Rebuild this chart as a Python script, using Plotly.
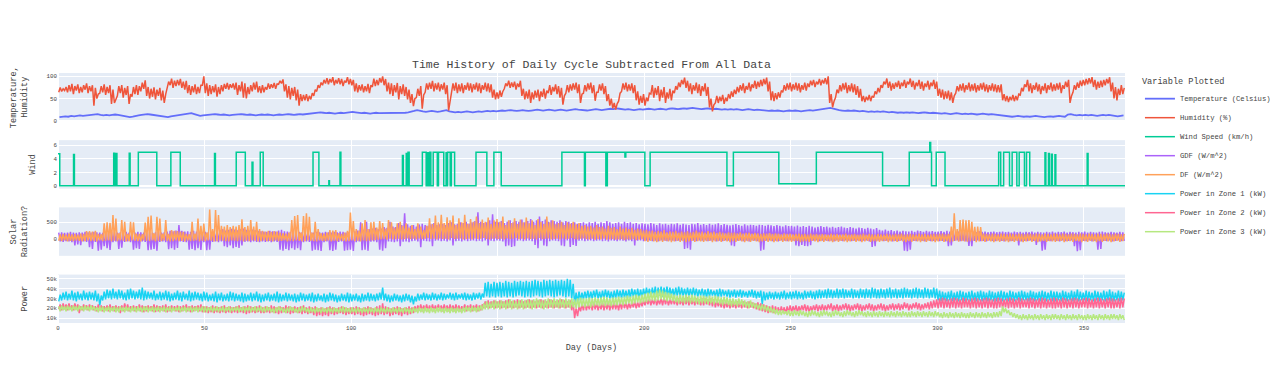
import plotly.graph_objects as go
from plotly.subplots import make_subplots

FONT = "Courier New, Liberation Mono, monospace"

days = list(range(364))

temperature = [
    8, 9, 10, 9, 11, 10, 11, 12, 11, 12,
    12, 13, 14, 15, 13, 12, 13, 12, 13, 14,
    13, 12, 11, 10, 8, 9, 11, 12, 13, 14,
    15, 14, 13, 12, 11, 10, 9, 8, 10, 11,
    12, 13, 14, 15, 16, 17, 15, 13, 11, 12,
    13, 14, 14, 15, 14, 13, 14, 13, 12, 13,
    14, 15, 15, 14, 13, 14, 13, 12, 13, 14,
    13, 14, 13, 12, 13, 14, 13, 14, 15, 14,
    13, 14, 15, 14, 15, 16, 17, 18, 19, 19,
    18, 17, 18, 17, 16, 17, 18, 17, 18, 19,
    20, 19, 18, 17, 18, 17, 16, 17, 18, 17,
    17, 18, 17, 18, 17, 18, 17, 17, 18, 19,
    20, 22, 24, 22, 21, 20, 21, 22, 21, 20,
    21, 22, 24, 21, 20, 19, 20, 19, 20, 21,
    20, 19, 20, 21, 20, 21, 22, 21, 22, 21,
    22, 23, 22, 23, 24, 23, 22, 23, 24, 23,
    22, 23, 24, 25, 24, 23, 24, 25, 24, 23,
    24, 25, 24, 23, 24, 25, 26, 25, 24, 23,
    23, 24, 25, 26, 25, 24, 25, 26, 27, 26,
    28, 27, 26, 25, 26, 25, 24, 25, 26, 25,
    26, 27, 26, 25, 26, 27, 26, 25, 27, 28,
    27, 26, 27, 28, 27, 28, 29, 28, 27, 26,
    27, 28, 27, 26, 27, 26, 25, 26, 25, 26,
    25, 26, 25, 24, 25, 26, 25, 24, 25, 24,
    24, 23, 22, 23, 22, 23, 22, 21, 22, 23,
    22, 23, 22, 21, 22, 23, 24, 23, 24, 25,
    25, 26, 28, 29, 27, 25, 24, 23, 22, 23,
    22, 23, 22, 21, 22, 21, 20, 21, 20, 21,
    20, 21, 20, 19, 20, 19, 18, 19, 18, 19,
    18, 19, 18, 17, 18, 19, 18, 17, 18, 17,
    17, 16, 17, 16, 15, 16, 17, 16, 15, 16,
    15, 16, 15, 14, 15, 16, 15, 14, 15, 14,
    14, 13, 12, 11, 10, 9, 10, 11, 10, 9,
    10, 9, 10, 11, 10, 9, 8, 9, 10, 9,
    10, 11, 10, 9, 14, 15, 13, 12, 13, 12,
    13, 12, 13, 12, 11, 12, 13, 12, 13, 12,
    11, 10, 11, 12,
]

humidity_hi = [
    75, 72, 76, 80, 83, 78, 82, 76, 80, 84,
    78, 80, 74, 60, 78, 82, 76, 80, 70, 50,
    78, 80, 74, 78, 60, 76, 80, 78, 86, 91,
    76, 72, 75, 70, 74, 68, 60, 88, 95, 90,
    92, 94, 88, 90, 80, 78, 82, 76, 80, 100,
    84, 80, 78, 82, 76, 80, 83, 85, 82, 84,
    86, 80, 88, 84, 76, 80, 86, 88, 78, 80,
    76, 84, 82, 85, 83, 90, 93, 82, 78, 74,
    76, 70, 60, 58, 60, 56, 62, 70, 80, 86,
    92, 96, 94, 98, 92, 96, 94, 90, 98, 94,
    92, 84, 80, 82, 78, 83, 80, 95, 92, 96,
    100, 94, 86, 84, 80, 85, 78, 82, 76, 70,
    60, 50, 72, 78, 58, 84, 86, 90, 84, 86,
    82, 86, 80, 50, 84, 86, 82, 84, 80, 86,
    84, 82, 86, 84, 80, 86, 84, 82, 70, 64,
    68, 66, 84, 90, 86, 88, 84, 90, 72, 66,
    70, 64, 68, 70, 66, 72, 68, 80, 76, 82,
    78, 74, 56, 80, 82, 84, 86, 82, 60, 80,
    84, 86, 80, 64, 82, 84, 78, 60, 50, 40,
    38, 62, 84, 86, 82, 84, 80, 66, 56, 60,
    52, 62, 80, 74, 78, 70, 76, 64, 72, 68,
    78, 86, 92, 97, 90, 84, 80, 86, 82, 78,
    84, 76, 50, 36, 56, 54, 58, 52, 60, 66,
    70, 76, 80, 84, 78, 86, 82, 90, 88, 92,
    94, 97, 88, 66, 62, 64, 68, 80, 84, 86,
    82, 86, 84, 80, 86, 84, 90, 92, 88, 94,
    92, 96, 100, 60, 44, 70, 80, 84, 86, 80,
    84, 82, 78, 72, 56, 54, 58, 56, 66, 74,
    80, 88, 95, 88, 84, 86, 90, 86, 92, 88,
    95, 90, 86, 92, 88, 84, 90, 86, 92, 88,
    72, 70, 66, 68, 64, 56, 78, 82, 84, 80,
    86, 82, 84, 80, 84, 86, 82, 80, 84, 82,
    80, 82, 60, 56, 54, 58, 56, 60, 74, 82,
    92, 84, 80, 86, 82, 78, 84, 80, 86, 82,
    84, 86, 80, 88, 92, 56, 80, 86, 90, 92,
    94, 96, 98, 92, 88, 90, 92, 94, 98, 86,
    76, 72, 80, 74,
]

humidity_lo = [
    64, 66, 68, 64, 66, 60, 68, 62, 64, 70,
    62, 66, 34, 50, 62, 64, 58, 62, 38, 40,
    56, 62, 52, 58, 38, 54, 60, 58, 66, 72,
    56, 50, 54, 48, 56, 46, 40, 72, 80, 74,
    78, 80, 74, 70, 62, 58, 64, 60, 62, 80,
    62, 56, 60, 64, 54, 60, 66, 72, 70, 74,
    70, 58, 66, 52, 50, 60, 66, 70, 64, 62,
    64, 70, 72, 74, 72, 82, 84, 66, 52, 48,
    56, 46, 34, 44, 46, 44, 48, 56, 66, 74,
    80, 84, 82, 86, 80, 84, 82, 78, 86, 82,
    80, 66, 64, 68, 64, 66, 62, 76, 78, 80,
    86, 80, 66, 60, 56, 64, 48, 60, 56, 48,
    40, 33, 52, 56, 27, 64, 70, 72, 66, 70,
    66, 70, 60, 23, 64, 68, 62, 66, 62, 70,
    68, 64, 70, 66, 62, 70, 66, 64, 52, 48,
    50, 54, 72, 78, 74, 76, 70, 76, 56, 48,
    50, 40, 48, 52, 44, 54, 50, 62, 58, 66,
    60, 52, 36, 62, 64, 68, 70, 62, 40, 62,
    66, 70, 62, 45, 64, 68, 60, 44, 34, 28,
    25, 44, 66, 70, 66, 68, 62, 46, 36, 40,
    34, 44, 60, 52, 58, 44, 52, 40, 50, 46,
    62, 70, 76, 82, 74, 66, 60, 68, 62, 56,
    66, 56, 30, 21, 40, 40, 44, 38, 44, 50,
    54, 60, 64, 68, 62, 70, 66, 74, 72, 76,
    78, 82, 66, 46, 44, 48, 52, 64, 68, 70,
    66, 70, 68, 64, 70, 68, 76, 80, 76, 82,
    80, 84, 82, 40, 30, 52, 62, 66, 70, 62,
    66, 64, 58, 52, 44, 42, 46, 44, 52, 60,
    64, 74, 82, 74, 68, 72, 76, 72, 78, 74,
    82, 76, 70, 78, 72, 68, 76, 70, 78, 72,
    56, 52, 48, 50, 46, 40, 62, 66, 68, 64,
    70, 66, 68, 64, 68, 70, 66, 64, 68, 66,
    64, 64, 46, 44, 42, 46, 44, 46, 58, 66,
    76, 66, 62, 70, 66, 60, 68, 62, 70, 66,
    68, 70, 62, 72, 76, 40, 64, 70, 74, 78,
    80, 82, 84, 76, 70, 74, 76, 80, 84, 66,
    50, 46, 58, 60,
]

wind_days = [
    0, 0.6, 5.3, 5.6, 19.0, 19.3, 19.8, 20.1, 24.3, 24.6,
    27.4, 33.7, 38.5, 41.7, 53.4, 53.7, 60.8, 63.9, 66.2, 66.5,
    69.0, 70.0, 87.0, 89.0, 92.4, 92.6, 96.2, 96.5, 117.5, 117.8,
    118.8, 119.1, 119.4, 119.8, 124.3, 125.6, 126.0, 126.3, 126.8, 127.2,
    128.0, 129.4, 129.8, 131.6, 132.4, 132.7, 132.9, 133.8, 134.2, 135.3,
    142.6, 146.3, 148.7, 151.2, 171.9, 179.6, 179.9, 186.9, 187.4, 193.4,
    193.7, 200.2, 202.0, 228.2, 230.4, 245.9, 258.7, 281.3, 290.4, 297.4,
    297.7, 298.0, 299.6, 302.6, 320.9, 321.6, 322.6, 324.6, 325.5, 327.1,
    327.9, 329.7, 330.4, 331.5, 336.7, 337.0, 337.9, 338.2, 338.9, 339.2,
    340.1, 340.4, 351.1, 351.4, 364,
]
wind_levels = [
    4.75, 0.08, 4.65, 0.08, 4.85, 0.08, 4.8, 0.08, 4.85, 0.08,
    5.0, 0.08, 5.0, 0.08, 4.8, 0.08, 5.0, 0.08, 3.5, 0.08,
    5.0, 0.08, 5.0, 0.08, 0.8, 0.08, 5.0, 0.08, 4.5, 0.08,
    4.8, 0.08, 5.0, 0.08, 5.0, 0.08, 4.9, 0.08, 5.0, 0.08,
    5.0, 0.08, 5.0, 0.08, 4.9, 0.08, 5.0, 0.08, 5.0, 0.08,
    5.0, 0.08, 5.0, 0.08, 5.0, 0.08, 5.0, 0.08, 5.0, 4.3,
    5.0, 0.08, 5.0, 0.08, 5.0, 0.35, 5.0, 0.08, 5.0, 6.4,
    5.0, 0.08, 5.0, 0.08, 5.0, 0.08, 5.0, 0.08, 5.0, 0.08,
    5.0, 0.08, 5.0, 0.08, 4.9, 0.08, 4.8, 0.08, 4.7, 0.08,
    4.6, 0.08, 4.8, 0.08, 0.08,
]

gdf_hi = [
    200, 210, 190, 200, 220, 200, 190, 210, 200, 220,
    210, 200, 220, 210, 200, 190, 210, 200, 220, 210,
    200, 210, 190, 220, 200, 210, 200, 220, 210, 200,
    210, 200, 190, 210, 220, 200, 210, 230, 250, 240,
    260, 420, 250, 230, 240, 220, 250, 230, 210, 200,
    220, 210, 200, 230, 250, 270, 300, 260, 280, 310,
    290, 270, 300, 320, 280, 260, 290, 270, 250, 240,
    230, 220, 250, 240, 230, 260, 280, 240, 230, 220,
    250, 240, 220, 210, 230, 220, 210, 200, 220, 210,
    200, 220, 210, 200, 220, 210, 230, 220, 200, 210,
    220, 240, 260, 500, 280, 520, 300, 320, 340, 300,
    320, 360, 340, 520, 380, 360, 480, 420, 770, 440,
    400, 420, 380, 440, 460, 420, 400, 440, 480, 420,
    440, 460, 420, 480, 500, 440, 460, 500, 480, 520,
    460, 500, 540, 800, 520, 480, 500, 560, 740, 520,
    500, 540, 480, 520, 560, 500, 540, 520, 580, 500,
    540, 600, 520, 560, 670, 540, 580, 520, 560, 540,
    520, 560, 500, 540, 520, 480, 500, 460, 480, 500,
    460, 500, 480, 520, 460, 500, 480, 540, 500, 460,
    480, 500, 460, 520, 480, 500, 460, 480, 440, 470,
    460, 440, 480, 460, 420, 470, 440, 460, 430, 460,
    440, 470, 430, 460, 440, 420, 460, 440, 480, 430,
    450, 420, 460, 430, 440, 470, 420, 450, 430, 410,
    430, 450, 420, 400, 440, 410, 430, 420, 400, 430,
    420, 400, 430, 410, 390, 420, 400, 380, 410, 390,
    400, 380, 410, 370, 390, 360, 400, 380, 350, 370,
    390, 360, 380, 350, 370, 340, 360, 380, 350, 330,
    360, 340, 320, 350, 330, 310, 340, 320, 300, 330,
    280, 260, 290, 250, 270, 240, 260, 230, 250, 240,
    230, 250, 220, 260, 240, 220, 250, 230, 240, 220,
    230, 240, 220, 250, 230, 240, 220, 230, 250, 220,
    240, 220, 230, 210, 240, 220, 230, 210, 220, 230,
    210, 220, 230, 210, 220, 200, 230, 210, 220, 200,
    220, 210, 230, 200, 220, 210, 200, 220, 210, 230,
    200, 220, 210, 230, 200, 220, 210, 200, 220, 210,
    230, 200, 220, 210, 200, 220, 230, 210, 200, 220,
    210, 200, 220, 210,
]

gdf_lo = [
    -60, -70, -50, -60, -80, -180, -150, -170, -60, -70,
    -230, -280, -70, -330, -300, -200, -260, -310, -80, -60,
    -280, -240, -70, -60, -80, -300, -260, -280, -60, -70,
    -320, -300, -280, -330, -70, -60, -80, -290, -260, -300,
    -250, -60, -70, -80, -300, -280, -320, -260, -310, -80,
    -320, -300, -70, -60, -80, -60, -200, -230, -180, -260,
    -220, -250, -180, -70, -60, -80, -60, -70, -80, -60,
    -70, -60, -80, -60, -70, -300, -330, -280, -320, -260,
    -300, -260, -320, -80, -60, -70, -330, -300, -320, -340,
    -80, -60, -320, -340, -300, -70, -60, -330, -320, -300,
    -340, -80, -60, -320, -300, -330, -70, -60, -80, -300,
    -330, -260, -60, -70, -80, -60, -200, -70, -60, -80,
    -50, -40, -60, -230, -40, -50, -60, -200, -40, -30,
    -50, -40, -60, -30, -180, -50, -40, -60, -30, -50,
    -40, -30, -50, -40, -60, -30, -180, -40, -50, -30,
    -40, -60, -200, -180, -220, -200, -40, -30, -50, -40,
    -30, -50, -160, -260, -40, -180, -200, -50, -30, -40,
    -50, -180, -200, -30, -220, -160, -190, -40, -30, -50,
    -40, -30, -50, -40, -30, -50, -40, -60, -30, -40,
    -50, -30, -40, -60, -30, -50, -180, -40, -30, -50,
    -40, -30, -50, -40, -60, -30, -40, -50, -30, -40,
    -50, -40, -30, -280, -260, -300, -40, -50, -30, -40,
    -30, -50, -40, -30, -60, -40, -50, -30, -40, -180,
    -200, -40, -30, -50, -40, -60, -30, -40, -50, -330,
    -300, -40, -30, -50, -40, -60, -30, -40, -50, -30,
    -40, -180, -200, -160, -190, -200, -170, -40, -30, -50,
    -40, -30, -50, -40, -60, -30, -40, -50, -30, -40,
    -50, -40, -30, -50, -40, -30, -60, -220, -200, -40,
    -30, -50, -40, -30, -60, -40, -50, -30, -330, -350,
    -300, -40, -50, -30, -40, -60, -30, -50, -40, -30,
    -50, -40, -60, -200, -180, -40, -30, -50, -40, -60,
    -190, -200, -40, -30, -50, -40, -60, -30, -40, -50,
    -30, -40, -60, -30, -50, -40, -30, -180, -60, -40,
    -50, -30, -40, -160, -60, -330, -300, -40, -50, -30,
    -40, -60, -30, -50, -40, -30, -200, -350, -320, -40,
    -50, -30, -60, -40, -300, -280, -40, -50, -30, -60,
    -40, -30, -50, -40,
]

df_hi = [
    150, 160, 140, 170, 150, 160, 140, 170, 160, 240,
    240, 230, 250, 160, 150, 470, 500, 490, 714, 616,
    180, 567, 520, 160, 517, 500, 170, 160, 150, 497,
    665, 700, 180, 665, 616, 170, 567, 160, 270, 250,
    240, 230, 220, 160, 150, 517, 170, 616, 400, 468,
    200, 880, 300, 860, 714, 400, 380, 420, 360, 400,
    380, 420, 590, 360, 400, 570, 380, 517, 300, 250,
    230, 250, 220, 240, 230, 200, 180, 170, 200, 567,
    685, 714, 200, 685, 770, 665, 200, 517, 300, 180,
    170, 200, 270, 260, 270, 180, 160, 200, 250, 790,
    540, 300, 260, 470, 567, 300, 500, 520, 350, 540,
    480, 320, 567, 500, 350, 470, 520, 400, 470, 350,
    420, 300, 470, 380, 270, 400, 620, 450, 700, 500,
    720, 480, 650, 560, 700, 420, 620, 500, 720, 460,
    600, 520, 670, 480, 580, 520, 640, 450, 560, 600,
    520, 670, 420, 560, 480, 620, 450, 580, 500, 640,
    470, 560, 420, 600, 520, 450, 670, 500, 560, 440,
    480, 520, 420, 500, 460, 520, 440, 480, 400, 420,
    380, 400, 350, 420, 360, 380, 320, 400, 340, 360,
    300, 380, 320, 350, 300, 340, 280, 320, 300, 260,
    280, 240, 260, 220, 250, 230, 270, 210, 240, 220,
    250, 200, 230, 210, 240, 200, 220, 260, 210, 230,
    200, 240, 210, 230, 190, 220, 200, 180, 210, 190,
    200, 180, 210, 170, 190, 200, 170, 190, 180, 160,
    180, 170, 190, 160, 180, 170, 150, 180, 160, 170,
    150, 160, 170, 150, 160, 140, 170, 150, 160, 140,
    160, 150, 140, 170, 150, 160, 140, 150, 170, 140,
    150, 160, 140, 150, 170, 140, 160, 150, 140, 160,
    150, 140, 160, 150, 140, 160, 150, 170, 140, 150,
    160, 150, 140, 170, 150, 160, 140, 150, 160, 150,
    160, 170, 150, 160, 380, 770, 300, 570, 580, 560,
    570, 520, 370, 380, 360, 170, 160, 150, 170, 160,
    150, 170, 160, 150, 170, 160, 150, 170, 160, 150,
    170, 160, 150, 170, 160, 150, 170, 160, 150, 170,
    160, 150, 170, 160, 150, 170, 160, 150, 170, 160,
    150, 170, 160, 150, 170, 160, 150, 170, 160, 150,
    170, 160, 150, 160,
]

df_lo = [
    -40, -50, -30, -60, -40, -50, -30, -40, -60, -50,
    -30, -50, -40, -60, -30, -50, -40, -30, -60, -40,
    -50, -30, -40, -60, -50, -30, -40, -50, -60, -30,
    -40, -50, -30, -60, -40, -50, -30, -40, -60, -50,
    -30, -50, -40, -60, -30, -50, -40, -30, -60, -40,
    -50, -30, -40, -60, -50, -30, -40, -50, -60, -30,
    -40, -50, -30, -60, -40, -50, -30, -40, -60, -50,
    -30, -50, -40, -60, -30, -50, -40, -30, -60, -40,
    -50, -30, -40, -60, -50, -30, -40, -50, -60, -30,
    -40, -50, -30, -60, -40, -50, -30, -40, -60, -50,
    -30, -50, -40, -60, -30, -50, -40, -30, -20, -10,
    0, 10, -10, 20, 0, 10, 20, 0, 10, 30,
    10, 20, 0, 30, 10, 20, 40, 10, 20, 0,
    30, 10, 20, 0, 40, 10, 20, 30, 0, 10,
    20, 0, 30, 10, 20, 40, 10, 0, 20, 30,
    10, 20, 0, 30, 10, 20, 40, 10, 20, 0,
    30, 10, 20, 0, 40, 10, 20, 30, 0, 10,
    20, 0, 30, 10, 20, 40, 10, 0, 20, 30,
    10, 0, 20, -10, 10, 0, 20, -10, 0, 10,
    -10, 0, 10, -20, 0, -10, 10, -20, -10, 0,
    -50, -70, -40, -60, -80, -50, -70, -40, -60, -80,
    -60, -40, -70, -50, -80, -60, -40, -70, -50, -60,
    -70, -50, -40, -80, -60, -50, -70, -40, -60, -80,
    -50, -70, -40, -60, -80, -50, -70, -40, -60, -80,
    -60, -40, -70, -50, -80, -60, -40, -70, -50, -60,
    -70, -50, -40, -80, -60, -50, -70, -40, -60, -80,
    -50, -70, -40, -60, -80, -50, -70, -40, -60, -80,
    -60, -40, -70, -50, -80, -60, -40, -70, -50, -60,
    -70, -50, -40, -80, -60, -50, -70, -40, -60, -80,
    -50, -70, -40, -60, -80, -50, -70, -40, -60, -80,
    -60, -40, -70, -50, -80, -60, -40, -70, -50, -60,
    -70, -50, -40, -80, -60, -50, -70, -40, -60, -80,
    -50, -70, -40, -60, -80, -50, -70, -40, -60, -80,
    -60, -40, -70, -50, -80, -60, -40, -70, -50, -60,
    -70, -50, -40, -80, -60, -50, -70, -40, -60, -80,
    -50, -70, -40, -60, -80, -50, -70, -40, -60, -80,
    -60, -40, -70, -50,
]

# Power, in thousands of kW
zone1_hi = [
    34, 36, 37, 35, 38, 36, 37, 35, 38, 36,
    37, 36, 38, 35, 33, 37, 39, 38, 40, 37,
    39, 38, 36, 39, 40, 38, 37, 39, 41, 38,
    37, 36, 38, 35, 37, 36, 38, 37, 35, 36,
    38, 36, 37, 35, 38, 36, 37, 36, 35, 37,
    36, 34, 35, 37, 35, 36, 34, 35, 37, 36,
    35, 34, 36, 35, 34, 36, 35, 37, 35, 34,
    35, 36, 34, 35, 37, 35, 34, 36, 35, 34,
    35, 34, 36, 35, 34, 35, 36, 34, 35, 33,
    35, 34, 36, 35, 34, 33, 35, 34, 36, 35,
    34, 35, 33, 35, 34, 36, 35, 34, 35, 36,
    41, 35, 34, 33, 35, 34, 33, 34, 35, 34,
    33, 32, 35, 34, 36, 35, 34, 36, 35, 34,
    36, 35, 34, 36, 35, 36, 34, 35, 36, 35,
    34, 36, 35, 36, 35, 46, 47, 45, 47, 46,
    47, 46, 48, 47, 46, 48, 47, 48, 47, 48,
    47, 48, 49, 48, 47, 49, 48, 49, 48, 49,
    48, 49, 48, 50, 49, 45, 36, 37, 36, 37,
    38, 37, 38, 39, 37, 38, 39, 38, 37, 38,
    39, 38, 39, 38, 39, 40, 39, 40, 39, 40,
    41, 40, 41, 42, 41, 42, 41, 42, 41, 40,
    41, 42, 41, 40, 41, 40, 41, 40, 39, 40,
    39, 40, 39, 38, 39, 40, 39, 38, 39, 38,
    39, 38, 39, 38, 37, 38, 39, 38, 37, 38,
    37, 36, 37, 36, 37, 36, 37, 38, 36, 37,
    37, 38, 37, 36, 38, 37, 38, 37, 38, 39,
    38, 39, 40, 39, 38, 40, 39, 40, 39, 38,
    40, 39, 38, 40, 39, 40, 39, 41, 40, 39,
    40, 39, 40, 41, 39, 40, 39, 40, 41, 40,
    39, 40, 41, 40, 39, 41, 40, 39, 41, 40,
    38, 37, 36, 37, 38, 36, 37, 38, 37, 36,
    37, 38, 36, 37, 38, 37, 36, 38, 37, 36,
    37, 38, 37, 36, 38, 37, 36, 37, 38, 37,
    36, 38, 37, 36, 37, 38, 37, 36, 38, 37,
    37, 36, 38, 37, 36, 38, 37, 39, 37, 36,
    38, 37, 36, 38, 37, 36, 38, 37, 39, 37,
    36, 38, 37, 36,
]

zone1_lo = [
    27, 28, 29, 28, 29, 28, 27, 29, 28, 29,
    28, 29, 28, 27, 23, 28, 29, 30, 29, 30,
    29, 30, 29, 28, 29, 30, 29, 30, 29, 28,
    29, 30, 29, 28, 29, 28, 29, 28, 27, 28,
    29, 28, 27, 29, 28, 27, 28, 29, 28, 27,
    28, 27, 28, 27, 26, 28, 27, 28, 27, 28,
    27, 28, 27, 26, 27, 28, 27, 28, 27, 26,
    27, 28, 27, 28, 27, 26, 27, 28, 27, 28,
    27, 26, 27, 28, 27, 28, 27, 26, 27, 28,
    27, 26, 27, 28, 27, 26, 27, 28, 27, 26,
    27, 28, 27, 26, 27, 28, 27, 28, 27, 28,
    29, 28, 27, 26, 27, 28, 27, 26, 27, 28,
    26, 24, 27, 28, 29, 28, 29, 28, 29, 28,
    29, 28, 29, 30, 29, 28, 29, 30, 29, 28,
    29, 28, 29, 30, 29, 31, 32, 31, 32, 31,
    32, 31, 32, 31, 32, 31, 32, 33, 32, 31,
    32, 31, 32, 33, 32, 31, 32, 33, 32, 31,
    32, 33, 32, 31, 32, 30, 24, 26, 28, 29,
    30, 29, 30, 31, 30, 29, 30, 31, 30, 29,
    30, 31, 30, 31, 30, 31, 32, 31, 30, 31,
    32, 33, 32, 33, 32, 33, 32, 33, 32, 33,
    32, 33, 32, 33, 32, 33, 32, 33, 32, 33,
    32, 31, 32, 33, 32, 31, 32, 33, 32, 31,
    32, 31, 32, 31, 32, 31, 32, 31, 30, 31,
    24, 28, 29, 30, 29, 30, 29, 30, 29, 30,
    29, 30, 29, 30, 29, 30, 31, 30, 29, 30,
    30, 31, 30, 31, 30, 31, 30, 31, 30, 31,
    31, 30, 31, 30, 31, 30, 31, 30, 31, 30,
    30, 31, 30, 31, 30, 31, 30, 31, 30, 31,
    31, 30, 31, 30, 31, 30, 31, 30, 31, 30,
    28, 27, 28, 27, 28, 27, 28, 27, 28, 27,
    28, 27, 28, 27, 28, 27, 28, 27, 28, 27,
    27, 28, 27, 28, 27, 28, 27, 28, 27, 28,
    28, 27, 28, 27, 28, 27, 28, 27, 28, 27,
    27, 28, 27, 28, 27, 28, 27, 28, 27, 28,
    28, 27, 28, 27, 28, 27, 28, 27, 28, 27,
    27, 28, 27, 28,
]

zone2_hi = [
    24, 25, 24, 25, 23, 25, 24, 22, 24, 23,
    24, 23, 22, 24, 23, 22, 23, 24, 22, 23,
    22, 23, 25, 24, 22, 23, 22, 24, 23, 22,
    23, 22, 24, 23, 22, 23, 24, 22, 23, 22,
    23, 22, 23, 24, 22, 23, 22, 23, 24, 22,
    22, 21, 23, 22, 21, 22, 23, 21, 22, 21,
    22, 23, 21, 22, 23, 22, 21, 22, 23, 21,
    22, 21, 23, 22, 21, 22, 21, 23, 22, 21,
    22, 21, 22, 23, 21, 22, 21, 22, 20, 21,
    20, 21, 22, 21, 20, 21, 22, 21, 20, 21,
    21, 22, 21, 20, 21, 22, 21, 20, 22, 23,
    25, 22, 21, 20, 21, 22, 21, 20, 21, 22,
    21, 22, 23, 24, 23, 24, 23, 24, 23, 24,
    23, 24, 23, 24, 23, 24, 23, 22, 24, 23,
    24, 23, 24, 23, 24, 27, 28, 27, 28, 27,
    28, 27, 28, 29, 27, 28, 29, 28, 27, 28,
    29, 28, 27, 28, 29, 28, 27, 29, 28, 27,
    28, 29, 28, 27, 28, 26, 20, 22, 24, 25,
    24, 25, 26, 25, 24, 26, 25, 26, 25, 26,
    25, 26, 27, 26, 25, 26, 27, 26, 27, 28,
    29, 30, 29, 30, 29, 30, 31, 30, 29, 30,
    29, 30, 29, 30, 31, 30, 29, 30, 29, 30,
    30, 29, 30, 29, 28, 27, 28, 27, 26, 27,
    26, 27, 26, 27, 26, 27, 26, 25, 26, 25,
    24, 23, 22, 23, 22, 21, 22, 21, 22, 23,
    22, 23, 22, 23, 24, 23, 22, 23, 24, 23,
    24, 23, 24, 25, 23, 24, 23, 24, 25, 24,
    23, 24, 25, 24, 23, 24, 25, 24, 23, 24,
    25, 24, 23, 24, 25, 24, 25, 24, 26, 25,
    24, 25, 26, 25, 24, 25, 26, 27, 28, 29,
    30, 31, 30, 29, 30, 31, 30, 29, 31, 30,
    29, 30, 31, 30, 29, 30, 31, 30, 29, 30,
    31, 30, 29, 30, 31, 30, 29, 31, 30, 29,
    30, 31, 30, 29, 30, 31, 30, 29, 30, 31,
    30, 29, 31, 30, 29, 30, 31, 30, 29, 30,
    31, 30, 29, 30, 31, 30, 29, 30, 31, 30,
    29, 30, 31, 30,
]

zone2_lo = [
    19, 18, 19, 18, 19, 18, 19, 15, 18, 19,
    18, 19, 18, 17, 18, 17, 18, 17, 18, 17,
    18, 15, 17, 18, 17, 18, 17, 18, 17, 16,
    17, 18, 17, 16, 17, 18, 17, 16, 17, 18,
    17, 16, 17, 18, 17, 16, 17, 18, 17, 16,
    16, 15, 16, 15, 16, 15, 16, 15, 16, 15,
    16, 15, 16, 15, 14, 15, 16, 15, 16, 15,
    15, 16, 15, 16, 15, 14, 15, 16, 15, 14,
    15, 16, 15, 14, 15, 14, 15, 13, 12, 13,
    12, 13, 12, 14, 13, 14, 15, 14, 13, 14,
    14, 13, 14, 13, 12, 13, 14, 13, 12, 13,
    14, 13, 14, 12, 13, 14, 13, 12, 14, 13,
    14, 15, 17, 18, 17, 18, 17, 18, 17, 18,
    18, 17, 18, 17, 18, 17, 18, 17, 18, 17,
    18, 17, 18, 17, 18, 20, 21, 20, 21, 20,
    21, 20, 21, 20, 21, 20, 21, 20, 21, 20,
    21, 20, 21, 20, 21, 20, 21, 20, 21, 20,
    21, 20, 21, 20, 21, 18, 10, 12, 17, 18,
    18, 19, 18, 19, 18, 19, 18, 19, 18, 19,
    19, 18, 19, 20, 19, 20, 21, 20, 21, 22,
    23, 24, 23, 24, 23, 24, 23, 24, 23, 24,
    24, 23, 24, 23, 24, 23, 24, 23, 24, 23,
    23, 24, 23, 22, 21, 22, 21, 20, 21, 20,
    21, 20, 21, 20, 21, 20, 21, 20, 19, 18,
    17, 16, 15, 16, 15, 16, 15, 16, 15, 16,
    16, 17, 16, 17, 18, 17, 16, 17, 18, 17,
    18, 17, 18, 19, 17, 18, 17, 18, 19, 18,
    17, 18, 19, 18, 17, 18, 19, 18, 17, 18,
    19, 18, 17, 18, 19, 18, 19, 18, 19, 20,
    18, 19, 20, 19, 18, 19, 20, 19, 20, 21,
    20, 21, 20, 21, 20, 21, 20, 21, 20, 21,
    21, 20, 21, 20, 21, 20, 21, 20, 21, 20,
    20, 21, 20, 21, 20, 21, 20, 21, 20, 21,
    21, 20, 21, 20, 21, 20, 21, 20, 21, 20,
    20, 21, 20, 21, 20, 21, 20, 21, 20, 21,
    21, 20, 21, 20, 21, 20, 21, 20, 21, 20,
    20, 21, 20, 21,
]

zone3_hi = [
    22, 23, 22, 23, 22, 23, 22, 23, 22, 23,
    22, 23, 22, 21, 22, 22, 21, 22, 21, 22,
    21, 22, 21, 22, 21, 22, 21, 22, 21, 22,
    22, 21, 22, 21, 22, 21, 22, 21, 22, 21,
    21, 22, 21, 22, 21, 22, 21, 22, 21, 22,
    22, 21, 22, 21, 22, 21, 22, 21, 22, 21,
    21, 22, 21, 22, 21, 22, 21, 22, 21, 22,
    21, 22, 21, 20, 21, 22, 21, 20, 21, 22,
    21, 20, 21, 22, 21, 20, 21, 20, 21, 20,
    21, 20, 21, 20, 21, 20, 21, 22, 21, 20,
    21, 20, 21, 20, 21, 20, 21, 20, 21, 20,
    21, 20, 21, 20, 21, 20, 21, 20, 21, 20,
    20, 21, 20, 21, 20, 21, 20, 21, 20, 21,
    21, 20, 21, 20, 21, 20, 21, 20, 21, 22,
    21, 22, 21, 22, 23, 25, 27, 26, 27, 28,
    27, 28, 27, 28, 29, 28, 27, 28, 29, 28,
    29, 28, 29, 30, 29, 28, 29, 30, 29, 30,
    29, 30, 29, 30, 29, 30, 29, 30, 31, 30,
    30, 31, 30, 31, 30, 31, 32, 31, 30, 31,
    31, 32, 31, 32, 33, 32, 33, 34, 33, 34,
    35, 36, 37, 36, 38, 39, 38, 37, 36, 35,
    34, 33, 34, 33, 34, 33, 34, 33, 32, 33,
    33, 32, 33, 32, 33, 32, 31, 32, 31, 30,
    30, 29, 30, 29, 28, 27, 28, 26, 25, 24,
    24, 23, 22, 21, 20, 19, 18, 18, 17, 18,
    17, 18, 17, 18, 17, 16, 17, 18, 17, 16,
    17, 18, 17, 16, 17, 18, 17, 16, 17, 18,
    17, 16, 17, 18, 17, 16, 17, 16, 17, 16,
    17, 16, 17, 16, 17, 16, 17, 16, 17, 16,
    16, 17, 16, 17, 16, 17, 16, 17, 16, 17,
    16, 15, 16, 15, 16, 15, 16, 15, 16, 15,
    15, 16, 15, 16, 15, 16, 15, 16, 15, 16,
    16, 17, 22, 20, 18, 16, 15, 14, 13, 14,
    13, 14, 13, 14, 13, 14, 13, 14, 13, 14,
    14, 13, 14, 13, 14, 13, 14, 13, 14, 13,
    13, 14, 13, 14, 13, 14, 13, 14, 13, 14,
    14, 13, 14, 13,
]

zone3_lo = [
    17, 18, 17, 18, 17, 18, 17, 18, 17, 18,
    17, 18, 17, 16, 17, 16, 17, 16, 17, 16,
    16, 17, 16, 17, 16, 17, 16, 17, 16, 17,
    16, 17, 16, 17, 16, 17, 16, 17, 16, 17,
    17, 16, 17, 16, 17, 16, 17, 16, 17, 16,
    16, 17, 16, 17, 16, 17, 16, 17, 16, 17,
    17, 16, 17, 16, 17, 16, 17, 16, 17, 16,
    16, 17, 16, 15, 16, 17, 16, 15, 16, 17,
    16, 15, 16, 17, 16, 15, 16, 15, 16, 15,
    16, 15, 16, 15, 16, 15, 16, 15, 16, 15,
    16, 15, 16, 15, 16, 15, 16, 15, 16, 15,
    16, 15, 16, 15, 16, 15, 16, 15, 16, 15,
    15, 16, 15, 16, 15, 16, 15, 16, 15, 16,
    16, 15, 16, 15, 16, 15, 16, 15, 16, 17,
    16, 17, 16, 17, 18, 19, 19, 20, 19, 20,
    19, 20, 19, 20, 19, 20, 19, 20, 19, 20,
    20, 19, 20, 21, 20, 19, 20, 21, 20, 21,
    20, 21, 20, 21, 20, 21, 20, 21, 22, 21,
    22, 21, 22, 23, 22, 23, 22, 23, 22, 23,
    23, 24, 23, 24, 25, 24, 25, 26, 25, 26,
    26, 27, 28, 27, 28, 29, 28, 27, 28, 27,
    26, 25, 26, 25, 26, 25, 26, 25, 24, 25,
    25, 24, 25, 24, 25, 24, 23, 24, 23, 22,
    23, 22, 23, 22, 21, 20, 21, 20, 19, 18,
    18, 17, 16, 15, 14, 13, 13, 14, 13, 12,
    12, 13, 12, 13, 12, 11, 12, 13, 12, 11,
    12, 13, 12, 11, 12, 13, 12, 11, 12, 13,
    12, 11, 12, 13, 12, 11, 12, 11, 12, 11,
    12, 11, 12, 11, 12, 11, 12, 11, 12, 11,
    11, 12, 11, 12, 11, 12, 11, 12, 11, 12,
    11, 10, 11, 10, 11, 10, 11, 10, 11, 10,
    10, 11, 10, 11, 10, 11, 10, 11, 10, 11,
    11, 12, 16, 15, 13, 11, 10, 9, 8, 9,
    8, 9, 8, 9, 8, 9, 8, 9, 8, 9,
    9, 8, 9, 8, 9, 8, 9, 8, 9, 8,
    8, 9, 8, 9, 8, 9, 8, 9, 8, 9,
    9, 8, 9, 8,
]

for _name, _arr in [("temperature", temperature), ("humidity_hi", humidity_hi),
                    ("humidity_lo", humidity_lo), ("gdf_hi", gdf_hi), ("gdf_lo", gdf_lo),
                    ("df_hi", df_hi), ("df_lo", df_lo), ("zone1_hi", zone1_hi),
                    ("zone1_lo", zone1_lo), ("zone2_hi", zone2_hi), ("zone2_lo", zone2_lo),
                    ("zone3_hi", zone3_hi), ("zone3_lo", zone3_lo)]:
    assert len(_arr) == len(days), (_name, len(_arr))
assert len(wind_days) == len(wind_levels), (len(wind_days), len(wind_levels))

# each day: one reading early and one late in the day
x_mid = [d + 0.5 for d in days]
x_pair = []
for d in days:
    x_pair += [d + 0.25, d + 0.75]


def interleave(first, second):
    out = []
    for a, b in zip(first, second):
        out += [a, b]
    return out


COLORS = ["#636efa", "#EF553B", "#00cc96", "#ab63fa", "#FFA15A", "#19d3f3", "#FF6692", "#B6E880"]
LW = 1.5

fig = make_subplots(rows=4, cols=1, shared_xaxes=True)

fig.add_trace(go.Scatter(x=x_mid, y=temperature, mode="lines", name="Temperature (Celsius)",
                         line=dict(color=COLORS[0], width=1.8)), row=1, col=1)
fig.add_trace(go.Scatter(x=x_pair, y=interleave(humidity_lo, humidity_hi), mode="lines",
                         name="Humidity (%)", line=dict(color=COLORS[1], width=LW)), row=1, col=1)
fig.add_trace(go.Scatter(x=wind_days, y=wind_levels, mode="lines", name="Wind Speed (km/h)",
                         line=dict(color=COLORS[2], width=LW, shape="hv")), row=2, col=1)
fig.add_trace(go.Scatter(x=x_pair, y=interleave(gdf_hi, gdf_lo), mode="lines", name="GDF (W/m^2)",
                         line=dict(color=COLORS[3], width=LW)), row=3, col=1)
fig.add_trace(go.Scatter(x=x_pair, y=interleave(df_lo, df_hi), mode="lines", name="DF (W/m^2)",
                         line=dict(color=COLORS[4], width=LW)), row=3, col=1)
fig.add_trace(go.Scatter(x=x_pair, y=interleave(zone1_lo, zone1_hi), mode="lines",
                         name="Power in Zone 1 (kW)", line=dict(color=COLORS[5], width=LW)), row=4, col=1)
fig.add_trace(go.Scatter(x=x_pair, y=interleave(zone2_lo, zone2_hi), mode="lines",
                         name="Power in Zone 2 (kW)", line=dict(color=COLORS[6], width=LW)), row=4, col=1)
fig.add_trace(go.Scatter(x=x_pair, y=interleave(zone3_hi, zone3_lo), mode="lines",
                         name="Power in Zone 3 (kW)", line=dict(color=COLORS[7], width=LW)), row=4, col=1)

TICK = dict(family=FONT, size=5.8, color="#444")
ATITLE = dict(family=FONT, size=8.6, color="#444")

fig.update_xaxes(range=[0, 364], dtick=50, tickfont=TICK, showgrid=True)
fig.update_xaxes(title=dict(text="Day (Days)", font=ATITLE, standoff=13), row=4, col=1)

fig.update_yaxes(range=[-1.6, 107.5], dtick=50, tickfont=TICK,
                 title=dict(text="Temperature,<br>Humidity", font=ATITLE, standoff=17), row=1, col=1)
fig.update_yaxes(range=[-0.35, 6.75], dtick=2, tickfont=TICK,
                 title=dict(text="Wind", font=ATITLE, standoff=16), row=2, col=1)
fig.update_yaxes(range=[-482, 941], dtick=500, tickfont=TICK,
                 title=dict(text="Solar<br>Radiation?", font=ATITLE, standoff=17), row=3, col=1)
fig.update_yaxes(range=[5, 54.4], dtick=10, ticksuffix="k", tickfont=TICK,
                 title=dict(text="Power", font=ATITLE, standoff=17), row=4, col=1)

fig.update_layout(
    template="plotly",
    width=1272,
    height=373,
    margin=dict(l=50, r=155, t=65, b=58, autoexpand=False),
    font=dict(family=FONT, size=8.6, color="#444"),
    title=dict(text="Time History of Daily Cycle Subtracted From All Data",
               x=0.5, xref="paper", xanchor="center",
               y=1 - 56.3 / 373, yref="container", yanchor="middle",
               font=dict(family=FONT, size=11.5, color="#444")),
    legend=dict(title=dict(text="Variable Plotted", font=dict(family=FONT, size=8.6, color="#444")),
                font=dict(family=FONT, size=7.2, color="#444"),
                itemwidth=30, x=1.014, y=1, xanchor="left", yanchor="top"),
)

fig.write_html("out.html")
